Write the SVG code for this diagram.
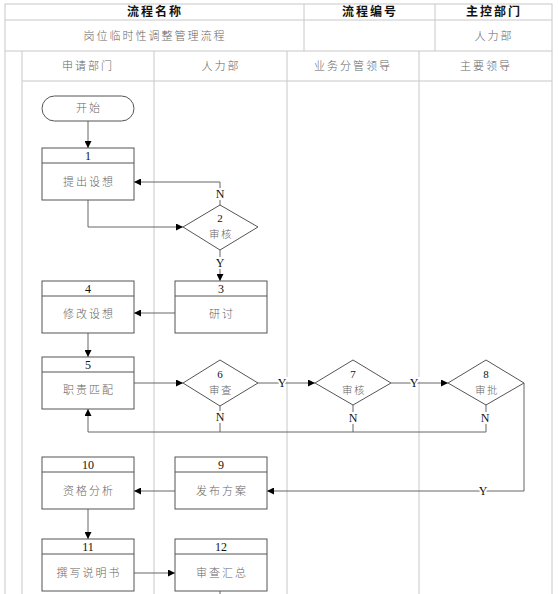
<svg xmlns="http://www.w3.org/2000/svg" width="558" height="594" viewBox="0 0 558 594">
<defs>
<marker id="ar" viewBox="0 0 10 10" refX="10" refY="5" markerWidth="7" markerHeight="7" markerUnits="userSpaceOnUse" orient="auto">
<path d="M0,0 L10,5 L0,10 z" fill="#000"/>
</marker>
<style>
.grid{stroke:#c8c8c8;stroke-width:1;fill:none}
.hd{font-family:"Noto Sans CJK SC",sans-serif;font-size:12px;font-weight:bold;fill:#111;text-anchor:middle;letter-spacing:2px}
.tx{font-family:"Noto Sans CJK SC",sans-serif;font-size:11px;font-weight:300;fill:#666;text-anchor:middle;letter-spacing:2px}
.dt{font-family:"Noto Sans CJK SC",sans-serif;font-size:10.5px;font-weight:300;fill:#666;text-anchor:middle;letter-spacing:1.5px}
.num{font-family:"Liberation Serif",serif;font-size:12px;fill:#111;text-anchor:middle}
.dn{font-family:"Liberation Serif",serif;font-size:11px;fill:#111;text-anchor:middle}
.yn{font-family:"Liberation Serif",serif;font-size:12px;fill:#111;text-anchor:middle;stroke:#fff;stroke-width:4px;paint-order:stroke}
.box{fill:#fff;stroke:#555;stroke-width:1}
.con{fill:none;stroke:#666;stroke-width:1}
</style>
</defs>
<rect width="558" height="594" fill="#fff"/>
<g id="frame">
<rect class="grid" x="5" y="4" width="547" height="47"/>
<line class="grid" x1="5" y1="20" x2="552" y2="20"/>
<line class="grid" x1="304" y1="4" x2="304" y2="51"/>
<line class="grid" x1="435" y1="4" x2="435" y2="51"/>
<line class="grid" x1="5" y1="51" x2="5" y2="594"/>
<line class="grid" x1="552" y1="51" x2="552" y2="594"/>
<line class="grid" x1="22" y1="51" x2="22" y2="594"/>
<line class="grid" x1="154" y1="51" x2="154" y2="594"/>
<line class="grid" x1="287" y1="51" x2="287" y2="594"/>
<line class="grid" x1="419" y1="51" x2="419" y2="594"/>
<line class="grid" x1="22" y1="81" x2="552" y2="81"/>
<text class="hd" x="155" y="16">流程名称</text>
<text class="hd" x="370" y="16">流程编号</text>
<text class="hd" x="494" y="16">主控部门</text>
<text class="tx" x="155" y="40">岗位临时性调整管理流程</text>
<text class="tx" x="494" y="40">人力部</text>
<text class="tx" x="88" y="70">申请部门</text>
<text class="tx" x="221" y="70">人力部</text>
<text class="tx" x="353" y="70">业务分管领导</text>
<text class="tx" x="486" y="70">主要领导</text>
</g>
<g id="connectors">
<path class="con" d="M88,121 V148" marker-end="url(#ar)"/>
<path class="con" d="M88,200 V227 H183" marker-end="url(#ar)"/>
<path class="con" d="M220,205 V182 H134" marker-end="url(#ar)"/>
<path class="con" d="M220,250 V281" marker-end="url(#ar)"/>
<path class="con" d="M175,313 H134" marker-end="url(#ar)"/>
<path class="con" d="M88,333 V357" marker-end="url(#ar)"/>
<path class="con" d="M134,383 H183" marker-end="url(#ar)"/>
<path class="con" d="M258,383 H315" marker-end="url(#ar)"/>
<path class="con" d="M391,383 H448" marker-end="url(#ar)"/>
<path class="con" d="M486,405 V432 H88 V409" marker-end="url(#ar)"/>
<path class="con" d="M220,406 V432"/>
<path class="con" d="M353,405 V432"/>
<path class="con" d="M524,383 V491 H267" marker-end="url(#ar)"/>
<path class="con" d="M175,491 H134" marker-end="url(#ar)"/>
<path class="con" d="M88,509 V539" marker-end="url(#ar)"/>
<path class="con" d="M134,573 H175" marker-end="url(#ar)"/>
<path class="con" d="M220,591 V594"/>
<text class="yn" x="220" y="198">N</text>
<text class="yn" x="220" y="267">Y</text>
<text class="yn" x="282" y="387">Y</text>
<text class="yn" x="414" y="387">Y</text>
<text class="yn" x="220" y="421">N</text>
<text class="yn" x="353" y="422">N</text>
<text class="yn" x="485" y="422">N</text>
<text class="yn" x="483" y="495">Y</text>
</g>
<g id="start">
<rect class="box" x="42" y="96" width="92" height="25" rx="12.5"/>
<text class="tx" x="89" y="112">开始</text>
</g>
<g id="n1">
<rect class="box" x="42" y="148" width="92" height="52"/>
<line class="box" x1="42" y1="163" x2="134" y2="163"/>
<text class="num" x="88" y="160">1</text>
<text class="tx" x="89" y="186">提出设想</text>
</g>
<g id="n2">
<polygon class="box" points="183,227 220,205 258,227 220,250"/>
<text class="dn" x="220" y="222">2</text>
<text class="dt" x="221" y="238">审核</text>
</g>
<g id="n3">
<rect class="box" x="175" y="281" width="92" height="52"/>
<line class="box" x1="175" y1="296" x2="267" y2="296"/>
<text class="num" x="221" y="293">3</text>
<text class="tx" x="222" y="318">研讨</text>
</g>
<g id="n4">
<rect class="box" x="42" y="281" width="92" height="52"/>
<line class="box" x1="42" y1="296" x2="134" y2="296"/>
<text class="num" x="88" y="293">4</text>
<text class="tx" x="89" y="318">修改设想</text>
</g>
<g id="n5">
<rect class="box" x="42" y="357" width="92" height="52"/>
<line class="box" x1="42" y1="372" x2="134" y2="372"/>
<text class="num" x="88" y="369">5</text>
<text class="tx" x="89" y="394">职责匹配</text>
</g>
<g id="n6">
<polygon class="box" points="183,383 220,360 258,383 220,406"/>
<text class="dn" x="220" y="378">6</text>
<text class="dt" x="221" y="394">审查</text>
</g>
<g id="n7">
<polygon class="box" points="315,383 353,360 391,383 353,405"/>
<text class="dn" x="353" y="378">7</text>
<text class="dt" x="354" y="394">审核</text>
</g>
<g id="n8">
<polygon class="box" points="448,383 486,360 524,383 486,405"/>
<text class="dn" x="486" y="378">8</text>
<text class="dt" x="487" y="394">审批</text>
</g>
<g id="n9">
<rect class="box" x="175" y="457" width="92" height="52"/>
<line class="box" x1="175" y1="472" x2="267" y2="472"/>
<text class="num" x="221" y="469">9</text>
<text class="tx" x="222" y="495">发布方案</text>
</g>
<g id="n10">
<rect class="box" x="42" y="457" width="92" height="52"/>
<line class="box" x1="42" y1="472" x2="134" y2="472"/>
<text class="num" x="88" y="469">10</text>
<text class="tx" x="89" y="495">资格分析</text>
</g>
<g id="n11">
<rect class="box" x="42" y="539" width="92" height="52"/>
<line class="box" x1="42" y1="554" x2="134" y2="554"/>
<text class="num" x="88" y="551">11</text>
<text class="tx" x="89" y="577">撰写说明书</text>
</g>
<g id="n12">
<rect class="box" x="175" y="539" width="92" height="52"/>
<line class="box" x1="175" y1="554" x2="267" y2="554"/>
<text class="num" x="221" y="551">12</text>
<text class="tx" x="222" y="577">审查汇总</text>
</g>
</svg>
